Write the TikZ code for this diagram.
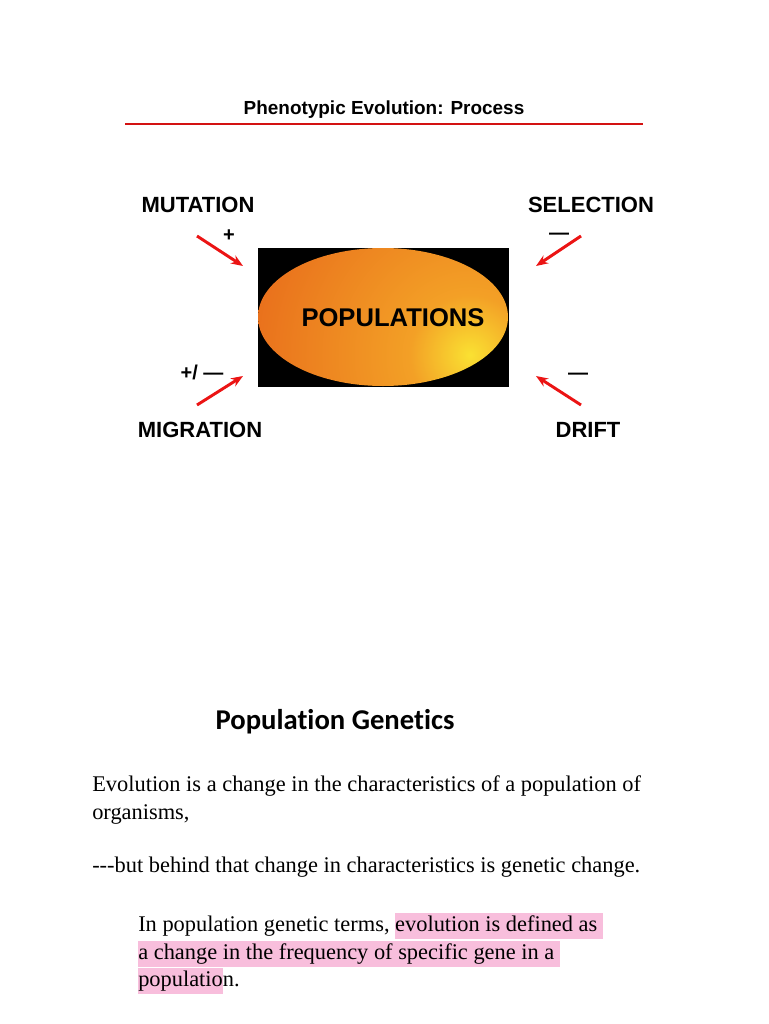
\documentclass[tikz,border=0pt]{standalone}
\usepackage{fontspec}
\setmainfont{Liberation Serif}
\newfontfamily\hsans{Liberation Sans}
\newfontfamily\carl[Ligatures=NoCommon]{Carlito}
\usetikzlibrary{arrows.meta}
\definecolor{arr}{RGB}{235,20,20}
\definecolor{hl}{RGB}{248,190,220}
\definecolor{orng}{RGB}{233,112,28}
\definecolor{midc}{RGB}{243,160,38}
\definecolor{yel}{RGB}{250,225,50}
\pgfdeclareradialshading{popshade}{\pgfpointorigin}{color(0bp)=(yel); color(6bp)=(midc); color(22bp)=(orng); color(50bp)=(orng)}
\newcommand{\hlt}[1]{{\setlength{\fboxsep}{0pt}\colorbox{hl}{\strut #1}}}
\begin{document}
\begin{tikzpicture}[x=0.75pt,y=-0.75pt,
  lab/.style={font=\hsans\bfseries\fontsize{16.5}{19}\selectfont},
  sgn/.style={font=\hsans\bfseries\fontsize{15}{17}\selectfont},
  body/.style={font=\fontsize{16.8}{19}\selectfont,anchor=base west,inner sep=0pt},
  redarrow/.style={draw=arr,line width=2.2pt,-{Stealth[length=9pt,width=7pt]}}]
\useasboundingbox (0,0) rectangle (768,1024);
\node[font=\hsans\bfseries\fontsize{14.2}{16}\selectfont] (title) at (384,110) {Phenotypic Evolution: Process};
\coordinate (l1) at (125,124); \coordinate (l2) at (643,124);
\draw[arr!90!black,line width=2.2pt] (l1) -- (l2);
\fill[black] (258,248) rectangle (509,387);
\begin{scope}
\clip (383,317) ellipse [x radius=125,y radius=69];
\shade[shading=popshade] (220,105) rectangle (720,605);
\end{scope}
\node[font=\hsans\bfseries\fontsize{19.2}{22}\selectfont] (pop) at (393,318) {POPULATIONS};
\node[lab] (mut) at (198,205) {MUTATION};
\node[lab] (sel) at (591,205) {SELECTION};
\node[lab] (mig) at (200,430) {MIGRATION};
\node[lab] (dri) at (588,430) {DRIFT};
\node[sgn] (s1) at (229,236) {+};
\node[sgn] (s2) at (559,236) {—};
\node[sgn] (s3) at (202,372) {+/ —};
\node[sgn] (s4) at (578,376) {—};
\coordinate (a1s) at (197,236); \coordinate (a1e) at (243,266);
\coordinate (a2s) at (581,236); \coordinate (a2e) at (536,266);
\coordinate (a3s) at (197,405); \coordinate (a3e) at (243,376);
\coordinate (a4s) at (581,405); \coordinate (a4e) at (536,376);
\draw[redarrow] (a1s) -- (a1e);
\draw[redarrow] (a2s) -- (a2e);
\draw[redarrow] (a3s) -- (a3e);
\draw[redarrow] (a4s) -- (a4e);
\node[font=\carl\bfseries\fontsize{21.5}{25}\selectfont] (pg) at (335,722) {Population Genetics};
\node[body] (t1) at (92,791) {Evolution is a change in the characteristics of a population of};
\node[body] (t2) at (92,819) {organisms,};
\node[body] (t3) at (92,872) {{-}{-}{-}but behind that change in characteristics is genetic change.};
\node[body] (t4) at (138,931) {In population genetic terms, \hlt{evolution is defined as }};
\node[body] (t5) at (138,959) {\hlt{a change in the frequency of specific gene in a }};
\node[body] (t6) at (138,986) {\hlt{populatio}n.};
\end{tikzpicture}
\end{document}
